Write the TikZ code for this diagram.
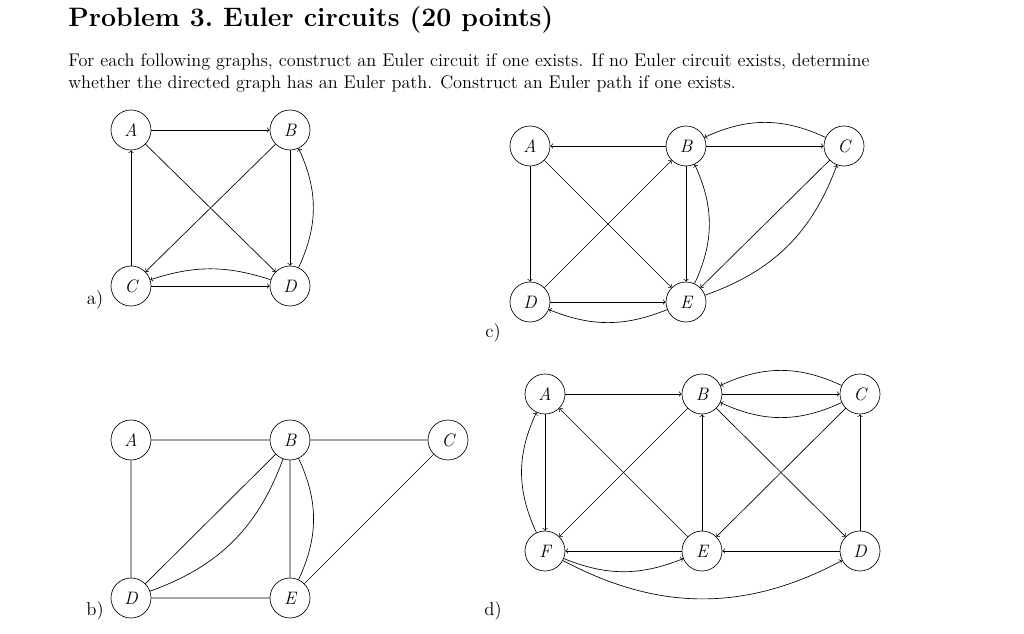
\documentclass[tikz,border=0pt]{standalone}
\begin{document}
\begin{tikzpicture}[x=0.75pt,y=-0.75pt,
  vtx/.style={draw,circle,minimum size=30pt,inner sep=0pt,font=\fontsize{13.5}{13.5}\selectfont\itshape},
  every path/.style={line width=0.5pt},
  lbl/.style={font=\fontsize{14}{14}\selectfont}]
\useasboundingbox (0,0) rectangle (1024,634);
\node[anchor=west,inner sep=0pt,font=\fontsize{20}{22}\selectfont\bfseries] (title) at (68,20) {Problem 3.\ Euler circuits (20 points)};
\node[anchor=west,inner sep=0pt,font=\fontsize{13.7}{15}\selectfont] (l1) at (68,62) {For each following graphs, construct an Euler circuit if one exists. If no Euler circuit exists, determine};
\node[anchor=west,inner sep=0pt,font=\fontsize{13.7}{15}\selectfont] (l2) at (68,84) {whether the directed graph has an Euler path. Construct an Euler path if one exists.};
% a
\node[vtx] (aA) at (131,130) {A};
\node[vtx] (aB) at (290,130) {B};
\node[vtx] (aC) at (131,286) {C};
\node[vtx] (aD) at (290,286) {D};
\node[lbl] (la) at (95,300) {a)};
\draw[->] (aA)--(aB);
\draw[->] (aC)--(aA);
\draw[->] (aA)--(aD);
\draw[->] (aB)--(aC);
\draw[->] (aB)--(aD);
\draw[->] (aD) to[bend right=25] (aB);
\draw[->] (aC)--(aD);
\draw[->] (aD) to[bend right=18] (aC);
% c
\node[vtx] (cA) at (530,146) {A};
\node[vtx] (cB) at (686,146) {B};
\node[vtx] (cC) at (844,146) {C};
\node[vtx] (cD) at (530,302) {D};
\node[vtx] (cE) at (686,302) {E};
\node[lbl] (lc) at (493,333) {c)};
\draw[->] (cB)--(cA);
\draw[->] (cB)--(cC);
\draw[->] (cC) to[bend right=25] (cB);
\draw[->] (cA)--(cD);
\draw[->] (cA)--(cE);
\draw[->] (cD)--(cB);
\draw[->] (cB)--(cE);
\draw[->] (cE) to[bend right=25] (cB);
\draw[->] (cC)--(cE);
\draw[->] (cE) to[bend right=25] (cC);
\draw[->] (cD)--(cE);
\draw[->] (cE) to[bend left=22] (cD);
% b
\node[vtx] (bA) at (131,440) {A};
\node[vtx] (bB) at (290,440) {B};
\node[vtx] (bC) at (448,440) {C};
\node[vtx] (bD) at (131,598) {D};
\node[vtx] (bE) at (290,598) {E};
\node[lbl] (lb) at (95,611) {b)};
\draw (bA)--(bB) (bB)--(bC) (bA)--(bD) (bD)--(bB) (bB)--(bE) (bD)--(bE) (bE)--(bC);
\draw (bD) to[bend right=25] (bB);
\draw (bB) to[bend left=25] (bE);
% d
\node[vtx] (dA) at (545,394) {A};
\node[vtx] (dB) at (702,394) {B};
\node[vtx] (dC) at (860,394) {C};
\node[vtx] (dF) at (545,551) {F};
\node[vtx] (dE) at (702,551) {E};
\node[vtx] (dD) at (860,551) {D};
\node[lbl] (ld) at (493,611) {d)};
\draw[->] (dA)--(dB);
\draw[->] (dB)--(dC);
\draw[->] (dC) to[bend right=25] (dB);
\draw[->] (dC) to[bend left=25] (dB);
\draw[->] (dA)--(dF);
\draw[->] (dF) to[bend left=25] (dA);
\draw[->] (dE)--(dA);
\draw[->] (dB)--(dF);
\draw[->] (dE)--(dB);
\draw[->] (dB)--(dD);
\draw[->] (dC)--(dE);
\draw[->] (dD)--(dC);
\draw[->] (dD)--(dE);
\draw[->] (dE)--(dF);
\draw[->] (dF) to[bend right=22] (dE);
\draw[->] (dF) to[bend right=28] (dD);
\end{tikzpicture}
\end{document}
